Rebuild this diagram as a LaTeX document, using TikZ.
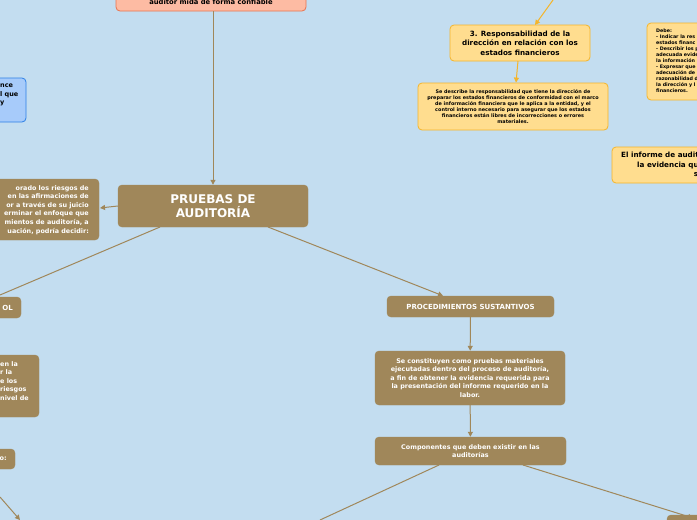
\documentclass[tikz,border=0pt]{standalone}
\usepackage{fontspec}
\setmainfont{DejaVu Sans}
\usetikzlibrary{arrows.meta}
\definecolor{bg}{HTML}{C3DDF0}
\definecolor{brn}{HTML}{A0875A}
\definecolor{orf}{HTML}{FDBBA3}
\definecolor{ord}{HTML}{E8734F}
\definecolor{yef}{HTML}{FFDD8F}
\definecolor{yed}{HTML}{F5B52A}
\definecolor{blf}{HTML}{A7CBFA}
\definecolor{bld}{HTML}{2C7FE6}
\begin{document}
\begin{tikzpicture}[x=1pt,y=-1pt,
 bbox/.style={rounded corners=4pt,fill=brn,draw=brn},
 ybox/.style={rounded corners=4pt,fill=yef,draw=yed,line width=0.8pt},
 wt/.style={text=white,font=\bfseries,align=center,inner sep=0pt},
 bt/.style={text=black,font=\bfseries,align=center,inner sep=0pt},
 bcon/.style={draw=brn,line width=1pt},
 barr/.style={bcon,-{Triangle[length=5pt,width=5pt]}},
 yarr/.style={draw=yed,line width=1pt,-{Triangle[length=5pt,width=5pt]}}]
\useasboundingbox (0,0) rectangle (697,520);
\clip (0,0) rectangle (697,520);
\fill[bg] (0,0) rectangle (697,520);
% boxes
\draw[rounded corners=4pt,fill=orf,draw=ord,line width=0.8pt] (116,-30) rectangle (306,11);
\node[bt,font=\bfseries\fontsize{6.8}{7}\selectfont] (t1) at (211,2) {auditor mida de forma confiable};
\draw[rounded corners=4pt,fill=blf,draw=bld,line width=0.8pt] (-40,78) rectangle (26,122);
\node[bt,align=left,anchor=north west,font=\bfseries\fontsize{6.5}{8.5}\selectfont] (b1) at (0,84) {nce\\l que\\y};
\draw[bbox] (-120,179) rectangle (99,240);
\node[wt,align=right,anchor=north east,font=\bfseries\fontsize{6.4}{8.6}\selectfont] (l1) at (89,185) {orado los riesgos de\\en las afirmaciones de\\or a través de su juicio\\erminar el enfoque que\\mientos de auditoría, a\\uación, podría decidir:};
\coordinate (l1e) at (100,208);
\node[bbox,minimum width=190pt,minimum height=42pt,wt,font=\bfseries\fontsize{12}{14}\selectfont] (pr) at (213,206) {PRUEBAS DE\\AUDITORÍA};
\draw[bbox] (-80,297) rectangle (21,318);
\node[wt,anchor=east,font=\bfseries\fontsize{7}{8}\selectfont] (ct) at (13,307.5) {OL};
\draw[bbox] (-150,355) rectangle (39,417);
\node[wt,align=left,anchor=north west,font=\bfseries\fontsize{6.4}{8.6}\selectfont] (l2) at (0,361) {en la\\r la\\e los\\riesgos\\nivel de};
\draw[bbox] (-80,449) rectangle (15,469);
\node[wt,anchor=east,font=\bfseries\fontsize{6.5}{8}\selectfont] (l3) at (7,459) {o:};
\coordinate (l3a) at (0,497); \coordinate (l3b) at (20,520);
\node[bbox,minimum width=167pt,minimum height=21pt,wt,font=\bfseries\fontsize{7}{8}\selectfont] (ps) at (470.5,306.5) {PROCEDIMIENTOS SUSTANTIVOS};
\node[bbox,minimum width=190pt,minimum height=54pt,wt,font=\bfseries\fontsize{6.4}{8.6}\selectfont] (sc) at (470,378) {Se constituyen como pruebas materiales\\ejecutadas dentro del proceso de auditoría,\\a fin de obtener la evidencia requerida para\\la presentación del informe requerido en la\\labor.};
\node[bbox,minimum width=191pt,minimum height=28pt,wt,font=\bfseries\fontsize{6.4}{8.6}\selectfont] (cm) at (470.5,451) {Componentes que deben existir en las\\auditorías};
\draw[bbox] (667,515) rectangle (760,560);
\coordinate (rb) at (693,518);
\coordinate (lb) at (320,520);
\coordinate (lt) at (0,295);
% yellow
\node[ybox,minimum width=140pt,minimum height=36pt,bt,font=\bfseries\fontsize{7.2}{9.5}\selectfont] (y3) at (520,43) {3. Responsabilidad de la\\dirección en relación con los\\estados financieros};
\coordinate (y0) at (553,0);
\node[ybox,minimum width=190pt,minimum height=47pt,bt,font=\bfseries\fontsize{4.9}{6.1}\selectfont] (yd) at (513,106.5) {Se describe la responsabilidad que tiene la dirección de\\preparar los estados financieros de conformidad con el marco\\de información financiera que le aplica a la entidad, y el\\control interno necesario para asegurar que los estados\\financieros están libres de incorrecciones o errores\\materiales.};
\draw[ybox] (647,23) rectangle (740,100);
\node[bt,align=left,anchor=north west,font=\bfseries\fontsize{4.8}{6}\selectfont] (ydb) at (656,29) {Debe:\\- Indicar la res\\estados financ\\- Describir los p\\adecuada evide\\la información\\- Expresar que\\adecuación de\\razonabilidad d\\la dirección y l\\financieros.};
\draw[ybox] (612,147) rectangle (740,183);
\node[bt,anchor=north west,align=center,font=\bfseries\fontsize{7.2}{9.5}\selectfont] (yel) at (621,152) {El informe de audit\\\hspace*{2.2em}la evidencia qu\\\hspace*{10em}s};
% connectors
\draw[barr] (213,11) -- (pr.north);
\draw[barr] (pr.west) -- (l1e);
\draw[bcon] (160,227) -- (lt);
\draw[barr] (268,227) -- (ps.north west -| 443,296);
\draw[barr] (ps) -- (sc);
\draw[barr] (sc) -- (cm);
\draw[bcon] (439,465) -- (lb);
\draw[barr] (523,465) -- (rb);
\draw[barr] (l3a) -- (l3b);
\draw[yarr] (y0) -- (535,25);
\draw[yarr] (518,61) -- (yd.north -| 516,83);
\end{tikzpicture}
\end{document}
